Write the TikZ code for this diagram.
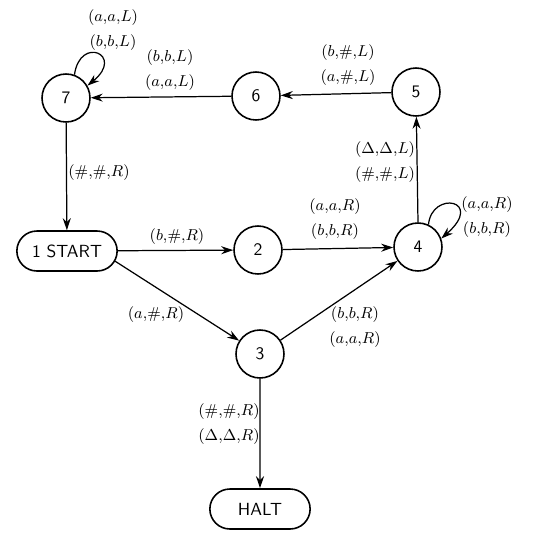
\documentclass[tikz,border=0pt]{standalone}
\usetikzlibrary{arrows.meta, shapes.misc}
\newcommand{\mv}[3]{$(#1{,}#2{,}#3)$}
\tikzset{
  state/.style={circle, draw, line width=0.9pt, minimum size=0.96cm, inner sep=0pt, font=\sffamily},
  term/.style={rounded rectangle, draw, line width=0.9pt, minimum width=2.24cm, minimum height=0.8cm, font=\sffamily},
  move/.style={-{Stealth[length=2.4mm, width=1.6mm]}, line width=0.7pt},
  lbl/.style={align=center, font=\small, inner sep=1pt}
}
\begin{document}
\begin{tikzpicture}[x=0.02cm, y=-0.02cm]
\useasboundingbox (0,0) rectangle (533,539);
% states
\node[state] (s7) at (66,98) {7};
\node[state] (s6) at (256,96) {6};
\node[state] (s5) at (416,92) {5};
\node[state] (s4) at (418,247) {4};
\node[state] (s2) at (258,250) {2};
\node[state] (s3) at (260,354) {3};
\node[term] (s1) at (67,251) {1 START};
\node[term] (halt) at (260,509) {HALT};
% moves
\draw[move] (s7.70) .. controls (80,35) and (125,55) .. (s7.30);
\draw[move] (s6) -- (s7);
\draw[move] (s5) -- (s6);
\draw[move] (s4.90) -- (s5);
\draw[move] (s4.65) .. controls (432,190) and (485,200) .. (s4.20);
\draw[move] (s2) -- (s4);
\draw[move] (s7) -- (s1);
\draw[move] (s1) -- (s2);
\draw[move] (s1.-12) -- (s3);
\draw[move] (s3) -- (s4);
\draw[move] (s3) -- (halt);
% labels
\node[lbl] (l77) at (113,30) {\mv{a}{a}{L}\\[3pt]\mv{b}{b}{L}};
\node[lbl] (l67) at (170,70) {\mv{b}{b}{L}\\[3pt]\mv{a}{a}{L}};
\node[lbl] (l56) at (348,65) {\mv{b}{\#}{L}\\[3pt]\mv{a}{\#}{L}};
\node[lbl] (l45) at (385,162) {\mv{\Delta}{\Delta}{L}\\[3pt]\mv{\#}{\#}{L}};
\node[lbl] (l24) at (335,219) {\mv{a}{a}{R}\\[3pt]\mv{b}{b}{R}};
\node[lbl] (l44) at (487,217) {\mv{a}{a}{R}\\[3pt]\mv{b}{b}{R}};
\node[lbl] (l71) at (99,173) {\mv{\#}{\#}{R}};
\node[lbl] (l12) at (177,237) {\mv{b}{\#}{R}};
\node[lbl] (l13) at (156,315) {\mv{a}{\#}{R}};
\node[lbl] (l34) at (355,327) {\mv{b}{b}{R}\\[3pt]\mv{a}{a}{R}};
\node[lbl] (l3h) at (229,424) {\mv{\#}{\#}{R}\\[3pt]\mv{\Delta}{\Delta}{R}};
\end{tikzpicture}
\end{document}
